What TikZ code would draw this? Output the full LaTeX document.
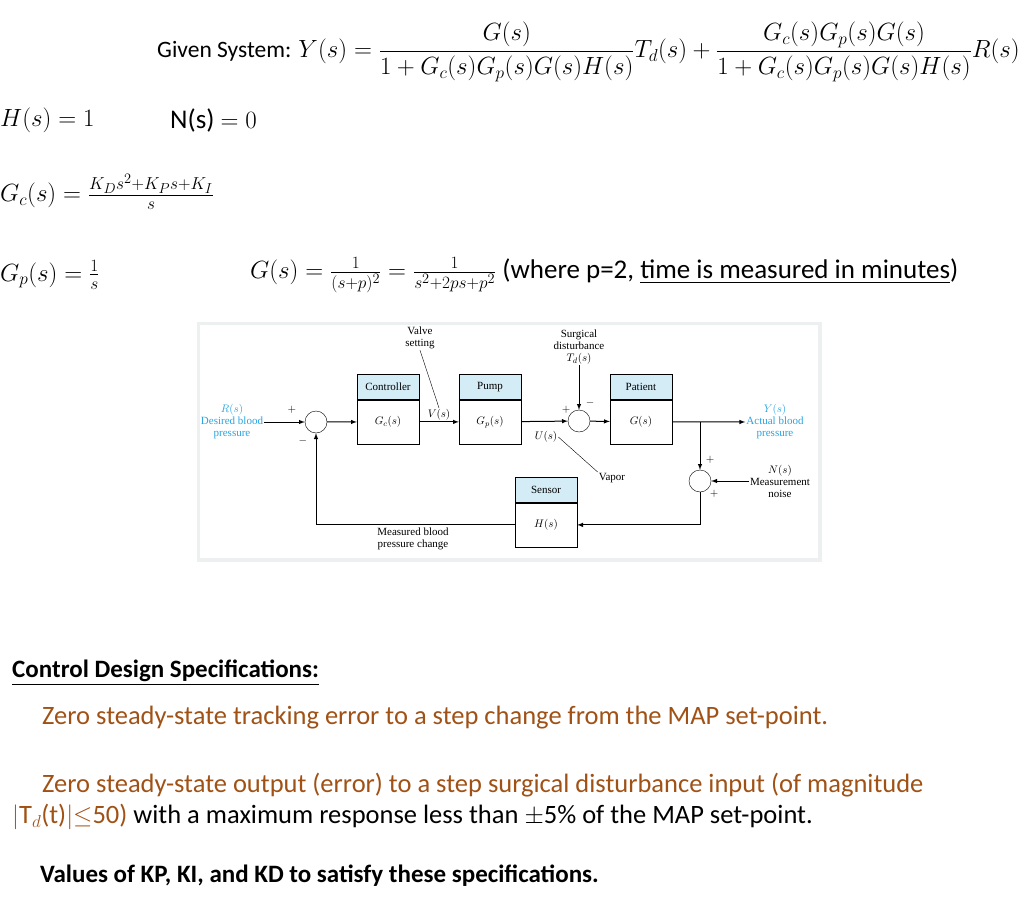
\documentclass[tikz,border=0pt]{standalone}
\usepackage{amsmath}
\usepackage{fontspec}
\setmainfont{Carlito}
\newfontfamily\blockfont{Liberation Serif}
\usetikzlibrary{positioning}
\definecolor{specbrown}{RGB}{160,82,22}
\definecolor{labelblue}{RGB}{40,165,225}
\definecolor{headblue}{RGB}{212,236,246}
\definecolor{panelgray}{RGB}{236,240,240}
\begin{document}
\begin{tikzpicture}[x=1pt,y=-1pt,
    eqn/.style={anchor=west,inner sep=0pt,font=\fontsize{27}{31}\selectfont},
    spec/.style={anchor=west,inner sep=0pt,font=\fontsize{26.5}{30}\selectfont},
    small/.style={font=\blockfont\fontsize{11}{12}\selectfont,align=center,inner sep=1pt},
    head/.style={draw,fill=headblue,minimum width=62,minimum height=25,small,font=\blockfont\fontsize{11}{12}\selectfont},
    body/.style={draw,fill=white,minimum width=62,minimum height=44,small,font=\blockfont\fontsize{11}{12}\selectfont},
    sumnode/.style={draw,circle,fill=white,minimum size=22,inner sep=0pt},
    sig/.style={->,>=latex,line width=1pt},
    ]
    \useasboundingbox (0,0) rectangle (1024,901);

    % Equations
    \node[eqn,font=\fontsize{23.5}{27}\selectfont] (given) at (157,52) {Given System: $Y(s)=\dfrac{G(s)}{1+G_c(s)G_p(s)G(s)H(s)}T_d(s)+\dfrac{G_c(s)G_p(s)G(s)}{1+G_c(s)G_p(s)G(s)H(s)}R(s)$};
    \node[eqn] (hs) at (0,120) {$H(s)=1$};
    \node[eqn] (ns) at (170,120) {N(s) $=0$};
    \node[eqn] (gc) at (0,192) {$G_c(s)=\frac{K_Ds^2+K_Ps+K_I}{s}$};
    \node[eqn] (gp) at (0,275) {$G_p(s)=\frac{1}{s}$};
    \node[eqn] (gs) at (250,275) {$G(s)=\frac{1}{(s+p)^2}=\frac{1}{s^2+2ps+p^2}$ (where p=2, \underline{time is measured in minutes})};

    % Block diagram
    \fill[panelgray] (197,322) rectangle (822,562);
    \fill[white] (200,325) rectangle (818,558);
    \node[sumnode] (sum1) at (316,422) {};
    \node[head] (ctrlh) at (388,387) {Controller};
    \node[body,below=0 of ctrlh] (ctrl) {$G_c(s)$};
    \node[head] (pumph) at (490,387) {Pump};
    \node[body,below=0 of pumph] (pump) {$G_p(s)$};
    \node[sumnode] (sum2) at (579,421) {};
    \node[head] (path) at (641,387) {Patient};
    \node[body,below=0 of path] (pat) {$G(s)$};
    \node[sumnode] (sum3) at (700,481) {};
    \node[head] (senh) at (546,490) {Sensor};
    \node[body,below=0 of senh] (sen) {$H(s)$};

    \node[small,text=labelblue] (rin) at (232,422) {$R(s)$\\Desired blood\\pressure};
    \node[small,text=labelblue] (yout) at (775,422) {$Y(s)$\\Actual blood\\pressure};
    \node[small] (nin) at (780,481) {$N(s)$\\Measurement\\noise};
    \node[small] (tdin) at (579,347) {Surgical\\disturbance\\$T_d(s)$};
    \node[small] (valve) at (420,338) {Valve\\setting};
    \node[small] (vapor) at (612,478) {Vapor};
    \node[small] (meas) at (413,539) {Measured blood\\pressure change};
    \node[small] (us) at (546,437) {$U(s)$};
    \coordinate (ybr) at (700,422);

    \draw[sig] (rin) -- (sum1);
    \draw[sig] (sum1) -- (ctrl);
    \draw[sig] (ctrl) -- node[small,above] (vs) {$V(s)$} (pump);
    \draw[sig] (pump) -- (sum2);
    \draw[sig] (tdin) -- (sum2);
    \draw[sig] (sum2) -- (pat);
    \draw[sig] (pat) -- (yout);
    \draw[sig] (ybr) -- (sum3);
    \draw[sig] (nin) -- (sum3);
    \draw[sig] (sum3) |- (sen);
    \draw[sig] (sen) -| (sum1);
    \draw[thin] (valve.south) -- (vs.north);
    \draw[thin] (vapor.north west) -- (us.east);

    \node[small] at (292,410) {$+$};
    \node[small] at (303,441) {$-$};
    \node[small] at (566,410) {$+$};
    \node[small] at (590,403) {$-$};
    \node[small] at (710,460) {$+$};
    \node[small] at (714,494) {$+$};

    % Specifications
    \node[spec,font=\bfseries\fontsize{25}{29}\selectfont] (cds) at (12,673) {\underline{Control Design Specifications:}};
    \node[spec,text=specbrown] (sp1) at (42,718) {Zero steady-state tracking error to a step change from the MAP set-point.};
    \node[spec,text=specbrown] (sp2) at (42,785) {Zero steady-state output (error) to a step surgical disturbance input (of magnitude};
    \node[spec] (sp3) at (12,817) {{\color{specbrown}$|$T$_d$(t)$|$$\le$50)} with a maximum response less than $\pm$5\% of the MAP set-point.};
    \node[spec,font=\bfseries\fontsize{25}{29}\selectfont] (kv) at (40,876) {Values of KP, KI, and KD to satisfy these specifications.};
\end{tikzpicture}
\end{document}
